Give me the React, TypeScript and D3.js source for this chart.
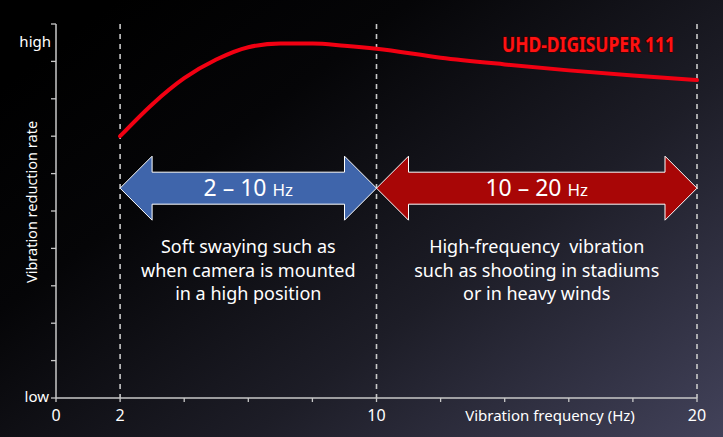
import React from "react";
import * as d3 from "d3";

const W = 723;
const H = 437;

// curve: vibration frequency (Hz) vs vibration reduction rate (0..10)
const freq = [2, 3, 4, 5, 6, 7, 8, 9, 10, 12, 14, 16, 18, 20];
const rate = [7.0, 7.85, 8.55, 9.05, 9.38, 9.48, 9.48, 9.42, 9.34, 9.1, 8.92, 8.76, 8.62, 8.5];

const xTicks = [0, 2, 4, 6, 8, 10, 12, 14, 16, 18, 20];
const xLabels = [0, 2, 10, 20];
const yTicks = [0, 1, 2, 3, 4, 5, 6, 7, 8, 9, 10];
const dividers = [2, 10, 20];

const bands = [
  { from: 2, to: 10, label: "2 – 10", unit: "Hz", color: "#3f65ab", lines: ["Soft swaying such as", "when camera is mounted", "in a high position"] },
  { from: 10, to: 20, label: "10 – 20", unit: "Hz", color: "#a80606", lines: ["High-frequency\u00a0 vibration", "such as shooting in stadiums", "or in heavy winds"] },
];

const FONT = "'Noto Sans', 'Open Sans', sans-serif";

export default function App() {
  const x = d3.scaleLinear().domain([0, 20]).range([56, 697]);
  const y = d3.scaleLinear().domain([0, 10]).range([398, 24]);
  const line = d3
    .line<number>()
    .x((_, i) => x(freq[i]))
    .y((d) => y(d))
    .curve(d3.curveMonotoneX);

  const arrowY = y(5.61);
  const shaftH = 16;
  const headH = 32;
  const headL = 32;
  const arrowPath = (a: number, b: number) => {
    const x0 = x(a);
    const x1 = x(b);
    const p = d3.path();
    p.moveTo(x0, arrowY);
    p.lineTo(x0 + headL, arrowY - headH);
    p.lineTo(x0 + headL, arrowY - shaftH);
    p.lineTo(x1 - headL, arrowY - shaftH);
    p.lineTo(x1 - headL, arrowY - headH);
    p.lineTo(x1, arrowY);
    p.lineTo(x1 - headL, arrowY + headH);
    p.lineTo(x1 - headL, arrowY + shaftH);
    p.lineTo(x0 + headL, arrowY + shaftH);
    p.lineTo(x0 + headL, arrowY + headH);
    p.closePath();
    return p.toString();
  };

  return (
    <div style={{ position: "absolute", left: 0, top: 0 }}>
      <svg width={W} height={H} style={{ display: "block" }} fontFamily={FONT}>
        <defs>
          <linearGradient id="bg" x1="0" y1="0.2" x2="1" y2="1">
            <stop offset="0" stopColor="#000000" />
            <stop offset="0.25" stopColor="#050507" />
            <stop offset="0.6" stopColor="#1d1d27" />
            <stop offset="1" stopColor="#42425a" />
          </linearGradient>
        </defs>
        <rect x={0} y={0} width={W} height={H} fill="url(#bg)" />

        {/* dividers */}
        {dividers.map((d) => (
          <line key={d} x1={x(d)} x2={x(d)} y1={y(10)} y2={y(0)} stroke="#c8c8c8" strokeWidth={1.6} strokeDasharray="5,5" />
        ))}

        {/* axes */}
        <line x1={x(0)} x2={x(0)} y1={y(10)} y2={y(0)} stroke="#c8c8c8" strokeWidth={1.5} />
        <line x1={x(0)} x2={x(20)} y1={y(0)} y2={y(0)} stroke="#c8c8c8" strokeWidth={1.5} />
        {yTicks.map((t) => (
          <line key={t} x1={x(0) - 5} x2={x(0)} y1={y(t)} y2={y(t)} stroke="#c8c8c8" strokeWidth={1.3} />
        ))}
        {xTicks.map((t) => (
          <line key={t} x1={x(t)} x2={x(t)} y1={y(0)} y2={y(0) + 4} stroke="#c8c8c8" strokeWidth={1.3} />
        ))}
        {xLabels.map((t) => (
          <text key={t} x={x(t)} y={421} fill="#ffffff" fontSize={16} textAnchor="middle">{t}</text>
        ))}
        <text x={550} y={421} fill="#ffffff" fontSize={15} textAnchor="middle">Vibration frequency (Hz)</text>
        <text x={51} y={47} fill="#ffffff" fontSize={15} textAnchor="end">high</text>
        <text x={49} y={402} fill="#ffffff" fontSize={15} textAnchor="end">low</text>
        <text transform="translate(37,202) rotate(-90)" fill="#ffffff" fontSize={14.5} textAnchor="middle">Vibration reduction rate</text>

        {/* curve */}
        <path d={line(rate) || ""} fill="none" stroke="#f20012" strokeWidth={4} strokeLinecap="round" />

        {/* title */}
        <text x={675} y={52} fill="#ff1212" stroke="#3a0000" strokeWidth={1.5} paintOrder="stroke" fontSize={21} fontWeight="bold" textAnchor="end" textLength={173} lengthAdjust="spacingAndGlyphs">UHD-DIGISUPER 111</text>

        {/* bands */}
        {bands.map((b) => {
          const cx = (x(b.from) + x(b.to)) / 2;
          return (
            <g key={b.label}>
              <path d={arrowPath(b.from, b.to)} fill={b.color} stroke="#ffffff" strokeWidth={1} />
              <text x={cx} y={arrowY + 8} fill="#ffffff" textAnchor="middle">
                <tspan fontSize={23}>{b.label} </tspan>
                <tspan fontSize={17}>{b.unit}</tspan>
              </text>
              {b.lines.map((l, i) => (
                <text key={i} x={cx} y={253 + i * 23.5} fill="#ffffff" fontSize={18} textAnchor="middle">{l}</text>
              ))}
            </g>
          );
        })}
      </svg>
    </div>
  );
}
